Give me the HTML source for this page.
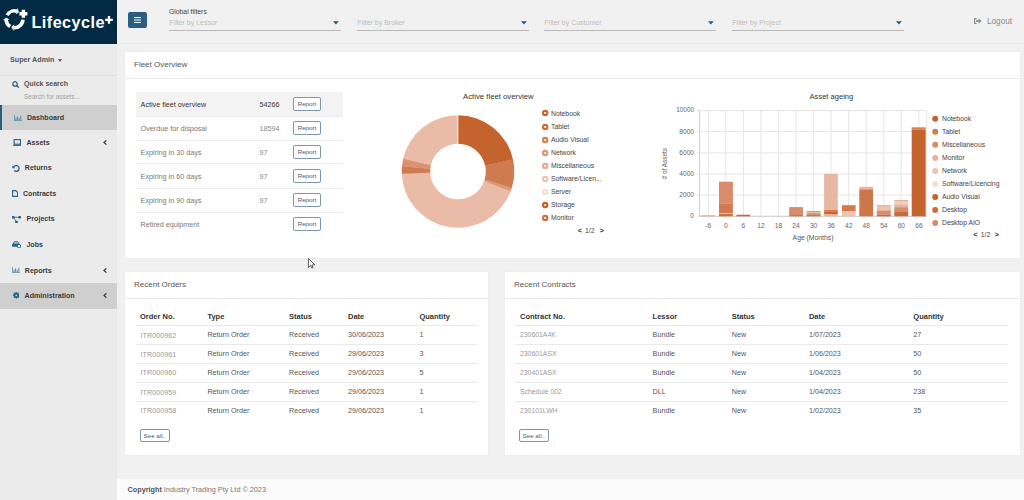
<!DOCTYPE html>
<html><head><meta charset="utf-8">
<style>
*{box-sizing:border-box;margin:0;padding:0}
html,body{width:1024px;height:500px;overflow:hidden;background:#f1f1f1;font-family:"Liberation Sans",sans-serif;color:#333}
.a{position:absolute;white-space:nowrap}
#side{position:absolute;left:0;top:0;width:117px;height:500px;background:#ebebeb}
#logo{position:absolute;left:0;top:0;width:117px;height:44px;background:#032a45}
.mi{position:absolute;left:0;width:117px;height:25px;font-size:7.1px;font-weight:bold;color:#333;line-height:25px}
.mi .tx{position:absolute;left:24px}
.mi svg{position:absolute;left:11px;top:8px}
.mi .chev{position:absolute;left:102px;top:0;font-size:8px;color:#333}
.card{position:absolute;background:#fff;box-shadow:0 0 0 0.5px #ececec}
.ch{position:absolute;left:0;right:0;top:0;height:26.5px;border-bottom:1px solid #e9e9e9}
.ch span{position:absolute;left:9px;top:8.4px;font-size:8px;line-height:10px;color:#555}
.btn{position:absolute;border:1px solid #7d97a8;border-radius:2px;background:#fff;font-size:6.2px;color:#3a5f78;text-align:center}
.filt{position:absolute;top:14px;height:17px;border-bottom:1px solid #bababa}
.filt span{position:absolute;left:0.3px;top:3.7px;font-size:7px;line-height:10px;color:#bdbdbd}
.filt i{position:absolute;right:1.8px;top:6.4px;width:0;height:0;border-left:2.9px solid transparent;border-right:2.9px solid transparent;border-top:3.2px solid #2b5f82}
.tr{position:absolute;font-size:7.2px;line-height:10px}
</style></head><body>
<div id="side">
  <div id="logo">
    <svg class="a" style="left:0;top:0" width="117" height="44" viewBox="0 0 117 44">
      <g fill="none" stroke="#fff" stroke-width="3.6"><path d="M7.15 15.23 A8.4 8.4 0 0 1 16.82 11.23"/><path d="M22.89 19.59 A8.4 8.4 0 0 1 13.62 27.65"/><path d="M10.17 26.50 A8.4 8.4 0 0 1 6.12 19.89"/><path d="M19.4 13.7 H27.4 M23.4 9.7 V17.7" stroke-width="3.4"/></g>
      <g fill="#fff"><path d="M15.82 14.37 L17.53 8.00 L18.95 12.18 Z"/><path d="M14.06 24.38 L13.48 30.96 L11.35 27.09 Z"/><path d="M9.42 19.74 L2.84 20.32 L6.28 17.55 Z"/></g>
      <text x="31.5" y="27.8" fill="#fff" font-family="Liberation Sans" font-weight="bold" font-size="16.2" letter-spacing="0.45">Lifecycle</text>
      <path d="M105.1 19.8 H112.8 M108.95 15.9 V23.7" stroke="#fff" stroke-width="2.3"/>
    </svg>
  </div>
  <div class="a" style="left:10px;top:54.7px;font-size:7.2px;line-height:10px;font-weight:bold;color:#555">Super Admin</div>
  <div class="a" style="left:57.5px;top:58.5px;width:0;height:0;border-left:2.5px solid transparent;border-right:2.5px solid transparent;border-top:3px solid #555"></div>
  <div class="a" style="left:0;top:75px;width:117px;height:1px;background:#dedede"></div>
  <svg class="a" style="left:12.2px;top:80.8px" width="7.5" height="7" viewBox="0 0 7.5 7"><circle cx="3" cy="2.9" r="2.2" fill="none" stroke="#2b6384" stroke-width="1.2"/><path d="M4.5 4.4 L6.8 6.6" stroke="#2b6384" stroke-width="1.4"/></svg>
  <div class="a" style="left:24px;top:79px;font-size:7px;line-height:10px;font-weight:bold;color:#555">Quick search</div>
  <div class="a" style="left:24px;top:91.5px;font-size:6.5px;line-height:10px;color:#a0a0a0">Search for assets...</div>
  <div class="a" style="left:0;top:105px;width:117px;height:25px;background:#cfcfcf;border-left:2px solid #2b5f82"></div>
  <div class="a" style="left:0;top:283px;width:117px;height:26px;background:#cfcfcf"></div>
  <svg class="a" style="left:14px;top:114.8px" width="8" height="6" viewBox="0 0 8 6"><path d="M0.4 0 V5.6 H8" fill="none" stroke="#5b8aa6" stroke-width="0.9"/><path d="M2 5 V2.6 M3.6 5 V1.4 M5.2 5 V3 M6.8 5 V0.8" stroke="#5b8aa6" stroke-width="1"/></svg><div class="a" style="left:27px;top:112.6px;font-size:7.1px;line-height:10px;font-weight:bold;color:#3a3a3a">Dashboard</div>
<svg class="a" style="left:12.8px;top:139.2px" width="8.6" height="6.8" viewBox="0 0 8.6 6.8"><rect x="1.1" y="0.6" width="6.4" height="4.6" fill="#dfe8ee" stroke="#2b6384" stroke-width="1.1"/><path d="M0 6.3 H8.6" stroke="#2b6384" stroke-width="1.2"/></svg><div class="a" style="left:26.4px;top:137.7px;font-size:7.1px;line-height:10px;font-weight:bold;color:#3a3a3a">Assets</div><svg class="a" style="left:102.8px;top:140.2px" width="4" height="5" viewBox="0 0 4 5"><path d="M3.4 0.4 L1 2.5 L3.4 4.6" fill="none" stroke="#333" stroke-width="1.2"/></svg>
<svg class="a" style="left:12px;top:165px" width="7.6" height="7.2" viewBox="0 0 7.6 7.2"><path d="M1.6 2.2 A2.9 2.9 0 1 1 2.2 5.6" fill="none" stroke="#2b6384" stroke-width="1.3"/><path d="M0.3 0.3 V3.2 H3.2 Z" fill="#2b6384"/></svg><div class="a" style="left:24.8px;top:163.4px;font-size:7.1px;line-height:10px;font-weight:bold;color:#3a3a3a">Returns</div>
<svg class="a" style="left:12px;top:189.8px" width="6.2" height="7" viewBox="0 0 6.2 7"><path d="M0.6 0.6 H3.8 L5.6 2.4 V6.4 H0.6 Z" fill="#e4ecf1" stroke="#2b6384" stroke-width="1.1"/></svg><div class="a" style="left:23px;top:188.5px;font-size:7.1px;line-height:10px;font-weight:bold;color:#3a3a3a">Contracts</div>
<svg class="a" style="left:12.4px;top:215.6px" width="9" height="7.4" viewBox="0 0 9 7.4"><path d="M1.4 1.3 H7.6 M1.4 1.3 L4.5 6 M7.6 1.3" stroke="#2b6384" stroke-width="0.8" fill="none"/><rect x="0" y="0" width="2.6" height="2.6" rx="0.7" fill="#2b6384"/><rect x="6.4" y="0" width="2.6" height="2.6" rx="0.7" fill="#2b6384"/><rect x="3.2" y="4.8" width="2.6" height="2.6" rx="0.7" fill="#2b6384"/></svg><div class="a" style="left:26.6px;top:214.2px;font-size:7.1px;line-height:10px;font-weight:bold;color:#3a3a3a">Projects</div>
<svg class="a" style="left:12.2px;top:241.2px" width="9.2" height="7.2" viewBox="0 0 9.2 7.2"><path d="M1.2 3 L2.2 0.8 H6 L7 3 Z" fill="none" stroke="#2b6384" stroke-width="1"/><rect x="0" y="3" width="7.4" height="2.8" rx="0.6" fill="#2b6384"/><circle cx="7" cy="5.2" r="1.8" fill="#ebebeb" stroke="#2b6384" stroke-width="1"/></svg><div class="a" style="left:26.4px;top:239.6px;font-size:7.1px;line-height:10px;font-weight:bold;color:#3a3a3a">Jobs</div>
<svg class="a" style="left:12.2px;top:267.4px" width="8" height="6" viewBox="0 0 8 6"><path d="M0.4 0 V5.6 H8" fill="none" stroke="#5b8aa6" stroke-width="0.9"/><path d="M2 5 V2.6 M3.6 5 V1.4 M5.2 5 V3 M6.8 5 V0.8" stroke="#5b8aa6" stroke-width="1"/></svg><div class="a" style="left:24.8px;top:265.9px;font-size:7.1px;line-height:10px;font-weight:bold;color:#3a3a3a">Reports</div><svg class="a" style="left:102.8px;top:267.9px" width="4" height="5" viewBox="0 0 4 5"><path d="M3.4 0.4 L1 2.5 L3.4 4.6" fill="none" stroke="#333" stroke-width="1.2"/></svg>
<svg class="a" style="left:12.8px;top:292px" width="6.6" height="6.6" viewBox="0 0 6.6 6.6"><circle cx="3.3" cy="3.3" r="2" fill="none" stroke="#2b6384" stroke-width="1.6"/><path d="M3.3 0 V6.6 M0 3.3 H6.6 M1 1 L5.6 5.6 M5.6 1 L1 5.6" stroke="#2b6384" stroke-width="1.2"/><circle cx="3.3" cy="3.3" r="0.9" fill="#cfcfcf"/></svg><div class="a" style="left:24.6px;top:291.1px;font-size:7.1px;line-height:10px;font-weight:bold;color:#3a3a3a">Administration</div><svg class="a" style="left:102.8px;top:292.9px" width="4" height="5" viewBox="0 0 4 5"><path d="M3.4 0.4 L1 2.5 L3.4 4.6" fill="none" stroke="#333" stroke-width="1.2"/></svg>
</div>
</div>
<!-- top bar -->
<div class="a" style="left:117px;top:0;width:907px;height:44px;background:#f1f1f1;border-bottom:1px solid #eaeaea"></div>
<div class="a" style="left:128px;top:12px;width:19px;height:16px;background:#2b5f82;border-radius:2px"><svg class="a" style="left:6px;top:5px" width="7" height="6" viewBox="0 0 7 6"><path d="M0 0.6 H7 M0 3 H7 M0 5.4 H7" stroke="#fff" stroke-width="1"/></svg></div>
<div class="a" style="left:169px;top:7.3px;font-size:6.8px;line-height:10px;color:#444">Global filters</div>
<div class="filt" style="left:169px;width:172px"><span>Filter by Lessor</span><svg style="position:absolute;right:1.8px;top:6.7px" width="6" height="4" viewBox="0 0 6 4"><path d="M0 0.2 H5.8 L2.9 3.4 Z" fill="#23587a"/></svg></div>
<div class="filt" style="left:357px;width:172px"><span>Filter by Broker</span><svg style="position:absolute;right:1.8px;top:6.7px" width="6" height="4" viewBox="0 0 6 4"><path d="M0 0.2 H5.8 L2.9 3.4 Z" fill="#23587a"/></svg></div>
<div class="filt" style="left:544px;width:172px"><span>Filter by Customer</span><svg style="position:absolute;right:1.8px;top:6.7px" width="6" height="4" viewBox="0 0 6 4"><path d="M0 0.2 H5.8 L2.9 3.4 Z" fill="#23587a"/></svg></div>
<div class="filt" style="left:732px;width:172px"><span>Filter by Project</span><svg style="position:absolute;right:1.8px;top:6.7px" width="6" height="4" viewBox="0 0 6 4"><path d="M0 0.2 H5.8 L2.9 3.4 Z" fill="#23587a"/></svg></div>
<svg class="a" style="left:974px;top:18.3px" width="8" height="6" viewBox="0 0 8 6"><path d="M2.6 0.6 H0.6 V5.4 H2.6" fill="none" stroke="#8a8a8a" stroke-width="1.1"/><path d="M2 3 H5.2" stroke="#8a8a8a" stroke-width="1.6"/><path d="M4.6 0.6 L7.6 3 L4.6 5.4 Z" fill="#8a8a8a"/></svg><div class="a" style="left:987px;top:16.8px;font-size:8.2px;line-height:10px;color:#8a8a8a">Logout</div>

<!-- fleet card -->
<div class="card" style="left:125px;top:52px;width:895px;height:206px">
  <div class="ch"><span>Fleet Overview</span></div>
</div>

<div class="a" style="left:136px;top:92px;width:207px;height:24px;background:#f3f3f3"></div>
<div class="a" style="left:136px;top:116px;width:207px;height:1px;background:#ededed"></div>
<div class="a" style="left:136px;top:140px;width:207px;height:1px;background:#ededed"></div>
<div class="a" style="left:136px;top:163px;width:207px;height:1px;background:#ededed"></div>
<div class="a" style="left:136px;top:188px;width:207px;height:1px;background:#ededed"></div>
<div class="a" style="left:136px;top:212px;width:207px;height:1px;background:#ededed"></div>
<div class="tr a" style="left:140.6px;top:99.9px;color:#333">Active fleet overview</div>
<div class="tr a" style="left:259.4px;top:99.9px;color:#333">54266</div>
<div class="btn" style="left:293px;top:97.2px;width:28px;height:14px;line-height:12px">Report</div>
<div class="tr a" style="left:140.6px;top:123.5px;color:#777">Overdue for disposal</div>
<div class="tr a" style="left:259.4px;top:123.5px;color:#888">18594</div>
<div class="btn" style="left:293px;top:120.8px;width:28px;height:14px;line-height:12px">Report</div>
<div class="tr a" style="left:140.6px;top:147.7px;color:#777">Expiring in 30 days</div>
<div class="tr a" style="left:259.4px;top:147.7px;color:#888">97</div>
<div class="btn" style="left:293px;top:145.0px;width:28px;height:14px;line-height:12px">Report</div>
<div class="tr a" style="left:140.6px;top:172.1px;color:#777">Expiring in 60 days</div>
<div class="tr a" style="left:259.4px;top:172.1px;color:#888">97</div>
<div class="btn" style="left:293px;top:169.4px;width:28px;height:14px;line-height:12px">Report</div>
<div class="tr a" style="left:140.6px;top:196.0px;color:#777">Expiring in 90 days</div>
<div class="tr a" style="left:259.4px;top:196.0px;color:#888">97</div>
<div class="btn" style="left:293px;top:193.3px;width:28px;height:14px;line-height:12px">Report</div>
<div class="tr a" style="left:140.6px;top:220.1px;color:#777">Retired equipment</div>
<div class="btn" style="left:293px;top:217.4px;width:28px;height:14px;line-height:12px">Report</div>
<svg class="a" style="left:0;top:0" width="1024" height="260"><path d="M458.00 115.20 A56.3 56.3 0 0 1 513.05 159.70 L485.18 165.67 A27.8 27.8 0 0 0 458.00 143.70 Z" fill="#c4632e"/><path d="M512.92 159.12 A56.3 56.3 0 0 1 511.72 188.34 L484.53 179.81 A27.8 27.8 0 0 0 485.12 165.39 Z" fill="#d07a4f"/><path d="M511.90 187.77 A56.3 56.3 0 0 1 510.53 191.77 L483.94 181.51 A27.8 27.8 0 0 0 484.61 179.54 Z" fill="#dc9a7a"/><path d="M510.73 191.22 A56.3 56.3 0 0 1 401.73 173.27 L430.21 172.37 A27.8 27.8 0 0 0 484.04 181.24 Z" fill="#eabba6"/><path d="M401.75 173.86 A56.3 56.3 0 0 1 401.98 165.91 L430.34 168.74 A27.8 27.8 0 0 0 430.22 172.66 Z" fill="#d27a50"/><path d="M401.92 166.50 A56.3 56.3 0 0 1 403.28 158.26 L430.98 164.96 A27.8 27.8 0 0 0 430.31 169.03 Z" fill="#db9272"/><path d="M403.14 158.84 A56.3 56.3 0 0 1 457.41 115.20 L457.71 143.70 A27.8 27.8 0 0 0 430.91 165.25 Z" fill="#eabba6"/><path d="M456.82 115.21 A56.3 56.3 0 0 1 458.00 115.20 L458.00 143.70 A27.8 27.8 0 0 0 457.42 143.71 Z" fill="#f6e0d6"/><path d="M458.00 114.70 L458.00 144.20" stroke="#fff" stroke-width="0.6"/></svg>
<div class="a" style="left:463px;top:92px;font-size:7.75px;line-height:10px;color:#333">Active fleet overview</div>
<svg class="a" style="left:540px;top:108.45px" width="10" height="10" viewBox="0 0 10 10"><circle cx="5.2" cy="5" r="2.15" fill="#fff" stroke="#c4632e" stroke-width="2.1"/></svg><div class="a" style="left:551px;top:108.5px;font-size:6.8px;line-height:10px;color:#444">Notebook</div>
<svg class="a" style="left:540px;top:121.55px" width="10" height="10" viewBox="0 0 10 10"><circle cx="5.2" cy="5" r="2.15" fill="#fff" stroke="#c96b3c" stroke-width="2.1"/></svg><div class="a" style="left:551px;top:121.6px;font-size:6.8px;line-height:10px;color:#444">Tablet</div>
<svg class="a" style="left:540px;top:134.55px" width="10" height="10" viewBox="0 0 10 10"><circle cx="5.2" cy="5" r="2.15" fill="#fff" stroke="#d07f56" stroke-width="2.1"/></svg><div class="a" style="left:551px;top:134.6px;font-size:6.8px;line-height:10px;color:#444">Audio Visual</div>
<svg class="a" style="left:540px;top:147.65px" width="10" height="10" viewBox="0 0 10 10"><circle cx="5.2" cy="5" r="2.15" fill="#fff" stroke="#d9957a" stroke-width="2.1"/></svg><div class="a" style="left:551px;top:147.7px;font-size:6.8px;line-height:10px;color:#444">Network</div>
<svg class="a" style="left:540px;top:160.75px" width="10" height="10" viewBox="0 0 10 10"><circle cx="5.2" cy="5" r="2.15" fill="#fff" stroke="#e2ab92" stroke-width="2.1"/></svg><div class="a" style="left:551px;top:160.8px;font-size:6.8px;line-height:10px;color:#444">Miscellaneous</div>
<svg class="a" style="left:540px;top:173.85px" width="10" height="10" viewBox="0 0 10 10"><circle cx="5.2" cy="5" r="2.15" fill="#fff" stroke="#ebc3b1" stroke-width="2.1"/></svg><div class="a" style="left:551px;top:173.8px;font-size:6.8px;line-height:10px;color:#444">Software/Licen...</div>
<svg class="a" style="left:540px;top:186.85px" width="10" height="10" viewBox="0 0 10 10"><circle cx="5.2" cy="5" r="2.15" fill="#fff" stroke="#f4ddd2" stroke-width="2.1"/></svg><div class="a" style="left:551px;top:186.9px;font-size:6.8px;line-height:10px;color:#444">Server</div>
<svg class="a" style="left:540px;top:199.95px" width="10" height="10" viewBox="0 0 10 10"><circle cx="5.2" cy="5" r="2.15" fill="#fff" stroke="#c3602a" stroke-width="2.1"/></svg><div class="a" style="left:551px;top:200.0px;font-size:6.8px;line-height:10px;color:#444">Storage</div>
<svg class="a" style="left:540px;top:213.05px" width="10" height="10" viewBox="0 0 10 10"><circle cx="5.2" cy="5" r="2.15" fill="#fff" stroke="#cc6d3f" stroke-width="2.1"/></svg><div class="a" style="left:551px;top:213.1px;font-size:6.8px;line-height:10px;color:#444">Monitor</div>
<div class="a" style="left:577.8px;top:225.6px;font-size:7.5px;line-height:10px;font-weight:bold;color:#333">&lt;</div><div class="a" style="left:585px;top:225.6px;font-size:6.8px;line-height:10px;color:#444">1/2</div><div class="a" style="left:599.4px;top:225.6px;font-size:7.5px;line-height:10px;font-weight:bold;color:#333">&gt;</div>
<svg class="a" style="left:640px;top:80px" width="384" height="180" viewBox="640 80 384 180"><g transform="translate(0 0.5)"><path d="M697 110 H926.8" stroke="#e6e6e6" stroke-width="1"/><path d="M697 131.2 H926.8" stroke="#e6e6e6" stroke-width="1"/><path d="M697 152.4 H926.8" stroke="#e6e6e6" stroke-width="1"/><path d="M697 173.5 H926.8" stroke="#e6e6e6" stroke-width="1"/><path d="M697 194.6 H926.8" stroke="#e6e6e6" stroke-width="1"/><path d="M697 215.8 H926.8" stroke="#e6e6e6" stroke-width="1"/><path d="M708.3 110 V218" stroke="#e6e6e6" stroke-width="1"/><path d="M725.8 110 V218" stroke="#e6e6e6" stroke-width="1"/><path d="M743.4 110 V218" stroke="#e6e6e6" stroke-width="1"/><path d="M760.9 110 V218" stroke="#e6e6e6" stroke-width="1"/><path d="M778.5 110 V218" stroke="#e6e6e6" stroke-width="1"/><path d="M796.0 110 V218" stroke="#e6e6e6" stroke-width="1"/><path d="M813.6 110 V218" stroke="#e6e6e6" stroke-width="1"/><path d="M831.1 110 V218" stroke="#e6e6e6" stroke-width="1"/><path d="M848.7 110 V218" stroke="#e6e6e6" stroke-width="1"/><path d="M866.2 110 V218" stroke="#e6e6e6" stroke-width="1"/><path d="M883.8 110 V218" stroke="#e6e6e6" stroke-width="1"/><path d="M901.3 110 V218" stroke="#e6e6e6" stroke-width="1"/><path d="M918.9 110 V218" stroke="#e6e6e6" stroke-width="1"/><path d="M926.8 110 V215.8" stroke="#e6e6e6" stroke-width="1"/><path d="M699.6 110 V216.3 M699.6 215.8 H926.8" stroke="#cfcfcf" stroke-width="1"/><rect x="701" y="214.8" width="14.2" height="1.0" fill="#e0a890"/><rect x="719" y="181.2" width="13.9" height="21.6" fill="#d98c69"/><rect x="719" y="202.8" width="13.9" height="10.0" fill="#d27a4f"/><rect x="719" y="212.8" width="13.9" height="0.7" fill="#eab79f"/><rect x="719" y="213.5" width="13.9" height="2.3" fill="#cf6d3d"/><rect x="736.4" y="214.2" width="13.8" height="1.6" fill="#c96b3c"/><rect x="789.2" y="206.6" width="13.8" height="8.0" fill="#d98c69"/><rect x="789.2" y="214.6" width="13.8" height="1.2" fill="#c96b3c"/><rect x="806.6" y="210.8" width="14.0" height="1.0" fill="#c96b3c"/><rect x="806.6" y="211.8" width="14.0" height="0.9" fill="#e5b09a"/><rect x="806.6" y="212.7" width="14.0" height="1.9" fill="#d98c69"/><rect x="806.6" y="214.6" width="14.0" height="1.2" fill="#c96b3c"/><rect x="824.1" y="173.3" width="13.7" height="36.2" fill="#e8b7a2"/><rect x="824.1" y="209.5" width="13.7" height="1.3" fill="#d27a4f"/><rect x="824.1" y="210.8" width="13.7" height="3.2" fill="#c8652f"/><rect x="824.1" y="214" width="13.7" height="1.8" fill="#e8b5a0"/><rect x="841.9" y="204.7" width="13.7" height="6.3" fill="#d27a4f"/><rect x="841.9" y="211" width="13.7" height="4.8" fill="#edc3b0"/><rect x="859.3" y="186.3" width="13.7" height="2.6" fill="#e8b5a0"/><rect x="859.3" y="188.9" width="13.7" height="26.9" fill="#cf7648"/><rect x="876.8" y="205" width="14.0" height="0.9" fill="#c96b3c"/><rect x="876.8" y="205.9" width="14.0" height="4.0" fill="#edc3b0"/><rect x="876.8" y="209.9" width="14.0" height="4.1" fill="#d98c69"/><rect x="876.8" y="214" width="14.0" height="1.8" fill="#c96b3c"/><rect x="894.3" y="200" width="13.9" height="0.9" fill="#c96b3c"/><rect x="894.3" y="200.9" width="13.9" height="2.9" fill="#f0cdbf"/><rect x="894.3" y="203.8" width="13.9" height="2.9" fill="#e8b5a0"/><rect x="894.3" y="206.7" width="13.9" height="4.1" fill="#d98c69"/><rect x="894.3" y="210.8" width="13.9" height="5.0" fill="#c96b3c"/><rect x="911.7" y="126.8" width="14.0" height="2.2" fill="#d4825a"/><rect x="911.7" y="129" width="14.0" height="86.8" fill="#c4632e"/></g><text x="694" y="112.3" text-anchor="end" font-family="Liberation Sans" font-size="6.4" fill="#666">10000</text><text x="694" y="133.5" text-anchor="end" font-family="Liberation Sans" font-size="6.6" fill="#666">8000</text><text x="694" y="154.7" text-anchor="end" font-family="Liberation Sans" font-size="6.6" fill="#666">6000</text><text x="694" y="175.8" text-anchor="end" font-family="Liberation Sans" font-size="6.6" fill="#666">4000</text><text x="694" y="196.9" text-anchor="end" font-family="Liberation Sans" font-size="6.6" fill="#666">2000</text><text x="694" y="218.1" text-anchor="end" font-family="Liberation Sans" font-size="6.6" fill="#666">0</text><text x="708.3" y="227.8" text-anchor="middle" font-family="Liberation Sans" font-size="6.6" fill="#666">-6</text><text x="725.8" y="227.8" text-anchor="middle" font-family="Liberation Sans" font-size="6.6" fill="#666">0</text><text x="743.4" y="227.8" text-anchor="middle" font-family="Liberation Sans" font-size="6.6" fill="#666">6</text><text x="760.9" y="227.8" text-anchor="middle" font-family="Liberation Sans" font-size="6.6" fill="#666">12</text><text x="778.5" y="227.8" text-anchor="middle" font-family="Liberation Sans" font-size="6.6" fill="#666">18</text><text x="796.0" y="227.8" text-anchor="middle" font-family="Liberation Sans" font-size="6.6" fill="#666">24</text><text x="813.6" y="227.8" text-anchor="middle" font-family="Liberation Sans" font-size="6.6" fill="#666">30</text><text x="831.1" y="227.8" text-anchor="middle" font-family="Liberation Sans" font-size="6.6" fill="#666">36</text><text x="848.7" y="227.8" text-anchor="middle" font-family="Liberation Sans" font-size="6.6" fill="#666">42</text><text x="866.2" y="227.8" text-anchor="middle" font-family="Liberation Sans" font-size="6.6" fill="#666">48</text><text x="883.8" y="227.8" text-anchor="middle" font-family="Liberation Sans" font-size="6.6" fill="#666">54</text><text x="901.3" y="227.8" text-anchor="middle" font-family="Liberation Sans" font-size="6.6" fill="#666">60</text><text x="918.9" y="227.8" text-anchor="middle" font-family="Liberation Sans" font-size="6.6" fill="#666">66</text><text x="813" y="239.6" text-anchor="middle" font-family="Liberation Sans" font-size="6.8" fill="#555">Age (Months)</text><text transform="translate(666.8 163.6) rotate(-90)" text-anchor="middle" font-family="Liberation Sans" font-size="6.4" fill="#555"># of Assets</text><text x="831.4" y="99" text-anchor="middle" font-family="Liberation Sans" font-size="7.55" fill="#333">Asset ageing</text><circle cx="935.2" cy="118.7" r="3" fill="#c4632e"/><text x="942" y="120.6" font-family="Liberation Sans" font-size="6.8" fill="#444">Notebook</text><circle cx="935.2" cy="131.7" r="3" fill="#d27a55"/><text x="942" y="133.7" font-family="Liberation Sans" font-size="6.8" fill="#444">Tablet</text><circle cx="935.2" cy="144.8" r="3" fill="#d98c69"/><text x="942" y="146.7" font-family="Liberation Sans" font-size="6.8" fill="#444">Miscellaneous</text><circle cx="935.2" cy="157.9" r="3" fill="#e5b09a"/><text x="942" y="159.8" font-family="Liberation Sans" font-size="6.8" fill="#444">Monitor</text><circle cx="935.2" cy="170.9" r="3" fill="#ecc4b6"/><text x="942" y="172.8" font-family="Liberation Sans" font-size="6.8" fill="#444">Network</text><circle cx="935.2" cy="183.9" r="3" fill="#f3dcd5"/><text x="942" y="185.8" font-family="Liberation Sans" font-size="6.8" fill="#444">Software/Licencing</text><circle cx="935.2" cy="197.0" r="3" fill="#c4632e"/><text x="942" y="198.9" font-family="Liberation Sans" font-size="6.8" fill="#444">Audio Visual</text><circle cx="935.2" cy="210.1" r="3" fill="#cc6f40"/><text x="942" y="212.0" font-family="Liberation Sans" font-size="6.8" fill="#444">Desktop</text><circle cx="935.2" cy="223.1" r="3" fill="#d98c69"/><text x="942" y="225.0" font-family="Liberation Sans" font-size="6.8" fill="#444">Desktop AIO</text><text x="973.3" y="237" font-family="Liberation Sans" font-size="7.5" font-weight="bold" fill="#333">&lt;</text><text x="980.8" y="237" font-family="Liberation Sans" font-size="6.8" fill="#444">1/2</text><text x="994.6" y="237" font-family="Liberation Sans" font-size="7.5" font-weight="bold" fill="#333">&gt;</text></svg>
<!-- orders card -->
<div class="card" style="left:125px;top:272px;width:363px;height:183px">
  <div class="ch"><span>Recent Orders</span></div>
</div>
<!-- contracts card -->
<div class="card" style="left:505px;top:272px;width:515px;height:183px">
  <div class="ch"><span>Recent Contracts</span></div>
</div>

<div class="a" style="left:140px;top:311.5px;font-size:7.5px;line-height:10px;font-weight:bold;color:#333">Order No.</div><div class="a" style="left:207.4px;top:311.5px;font-size:7.5px;line-height:10px;font-weight:bold;color:#333">Type</div><div class="a" style="left:289px;top:311.5px;font-size:7.5px;line-height:10px;font-weight:bold;color:#333">Status</div><div class="a" style="left:348px;top:311.5px;font-size:7.5px;line-height:10px;font-weight:bold;color:#333">Date</div><div class="a" style="left:419.4px;top:311.5px;font-size:7.5px;line-height:10px;font-weight:bold;color:#333">Quantity</div><div class="a" style="left:136px;top:325px;width:341px;height:1px;background:#e9e9e9"></div><div class="a" style="left:136px;top:344px;width:341px;height:1px;background:#e9e9e9"></div><div class="a" style="left:136px;top:363px;width:341px;height:1px;background:#e9e9e9"></div><div class="a" style="left:136px;top:382px;width:341px;height:1px;background:#e9e9e9"></div><div class="a" style="left:136px;top:401px;width:341px;height:1px;background:#e9e9e9"></div><div class="tr a" style="left:140.6px;top:330.5px;color:#999">ITR000962</div><div class="tr a" style="left:207.4px;top:329.8px;color:#555">Return Order</div><div class="tr a" style="left:289px;top:329.8px;color:#555">Received</div><div class="tr a" style="left:348px;top:329.8px;color:#555">30/06/2023</div><div class="tr a" style="left:419.4px;top:329.8px;color:#555">1</div>
<div class="tr a" style="left:140.6px;top:350.0px;color:#999">ITR000961</div><div class="tr a" style="left:207.4px;top:349.3px;color:#555">Return Order</div><div class="tr a" style="left:289px;top:349.3px;color:#555">Received</div><div class="tr a" style="left:348px;top:349.3px;color:#555">29/06/2023</div><div class="tr a" style="left:419.4px;top:349.3px;color:#555">3</div>
<div class="tr a" style="left:140.6px;top:368.3px;color:#999">ITR000960</div><div class="tr a" style="left:207.4px;top:367.6px;color:#555">Return Order</div><div class="tr a" style="left:289px;top:367.6px;color:#555">Received</div><div class="tr a" style="left:348px;top:367.6px;color:#555">29/06/2023</div><div class="tr a" style="left:419.4px;top:367.6px;color:#555">5</div>
<div class="tr a" style="left:140.6px;top:387.5px;color:#999">ITR000959</div><div class="tr a" style="left:207.4px;top:386.8px;color:#555">Return Order</div><div class="tr a" style="left:289px;top:386.8px;color:#555">Received</div><div class="tr a" style="left:348px;top:386.8px;color:#555">29/06/2023</div><div class="tr a" style="left:419.4px;top:386.8px;color:#555">1</div>
<div class="tr a" style="left:140.6px;top:406.4px;color:#999">ITR000958</div><div class="tr a" style="left:207.4px;top:405.7px;color:#555">Return Order</div><div class="tr a" style="left:289px;top:405.7px;color:#555">Received</div><div class="tr a" style="left:348px;top:405.7px;color:#555">29/06/2023</div><div class="tr a" style="left:419.4px;top:405.7px;color:#555">1</div>
<div class="btn" style="left:140px;top:428.6px;width:29.6px;height:13.6px;line-height:11.6px">See all..</div>
<div class="a" style="left:520px;top:311.5px;font-size:7.5px;line-height:10px;font-weight:bold;color:#333">Contract No.</div><div class="a" style="left:652.6px;top:311.5px;font-size:7.5px;line-height:10px;font-weight:bold;color:#333">Lessor</div><div class="a" style="left:731.8px;top:311.5px;font-size:7.5px;line-height:10px;font-weight:bold;color:#333">Status</div><div class="a" style="left:808.9px;top:311.5px;font-size:7.5px;line-height:10px;font-weight:bold;color:#333">Date</div><div class="a" style="left:913.3px;top:311.5px;font-size:7.5px;line-height:10px;font-weight:bold;color:#333">Quantity</div><div class="a" style="left:515px;top:325px;width:493px;height:1px;background:#e9e9e9"></div><div class="a" style="left:515px;top:344px;width:493px;height:1px;background:#e9e9e9"></div><div class="a" style="left:515px;top:363px;width:493px;height:1px;background:#e9e9e9"></div><div class="a" style="left:515px;top:382px;width:493px;height:1px;background:#e9e9e9"></div><div class="a" style="left:515px;top:401px;width:493px;height:1px;background:#e9e9e9"></div><div class="tr a" style="font-size:6.85px;left:520px;top:329.8px;color:#999">230601A4K</div><div class="tr a" style="left:652.6px;top:329.8px;color:#555">Bundle</div><div class="tr a" style="left:731.8px;top:329.8px;color:#555">New</div><div class="tr a" style="left:808.9px;top:329.8px;color:#555">1/07/2023</div><div class="tr a" style="left:913.3px;top:329.8px;color:#555">27</div>
<div class="tr a" style="font-size:6.85px;left:520px;top:349.3px;color:#999">230601ASX</div><div class="tr a" style="left:652.6px;top:349.3px;color:#555">Bundle</div><div class="tr a" style="left:731.8px;top:349.3px;color:#555">New</div><div class="tr a" style="left:808.9px;top:349.3px;color:#555">1/06/2023</div><div class="tr a" style="left:913.3px;top:349.3px;color:#555">50</div>
<div class="tr a" style="font-size:6.85px;left:520px;top:367.6px;color:#999">230401ASX</div><div class="tr a" style="left:652.6px;top:367.6px;color:#555">Bundle</div><div class="tr a" style="left:731.8px;top:367.6px;color:#555">New</div><div class="tr a" style="left:808.9px;top:367.6px;color:#555">1/04/2023</div><div class="tr a" style="left:913.3px;top:367.6px;color:#555">50</div>
<div class="tr a" style="font-size:6.85px;left:520px;top:386.8px;color:#999">Schedule 002</div><div class="tr a" style="left:652.6px;top:386.8px;color:#555">DLL</div><div class="tr a" style="left:731.8px;top:386.8px;color:#555">New</div><div class="tr a" style="left:808.9px;top:386.8px;color:#555">1/04/2023</div><div class="tr a" style="left:913.3px;top:386.8px;color:#555">238</div>
<div class="tr a" style="font-size:6.85px;left:520px;top:405.7px;color:#999">230101LWH</div><div class="tr a" style="left:652.6px;top:405.7px;color:#555">Bundle</div><div class="tr a" style="left:731.8px;top:405.7px;color:#555">New</div><div class="tr a" style="left:808.9px;top:405.7px;color:#555">1/02/2023</div><div class="tr a" style="left:913.3px;top:405.7px;color:#555">35</div>
<div class="btn" style="left:519px;top:428.6px;width:29.6px;height:13.6px;line-height:11.6px">See all..</div>
<!-- footer -->
<div class="a" style="left:117px;top:478px;width:907px;height:22px;background:#fbfbfb;border-top:1px solid #f0f0f0"></div>
<div class="a" style="left:127.6px;top:484.6px;font-size:7.25px;line-height:10px;color:#777"><b style="color:#555">Copyright</b> Industry Trading Pty Ltd © 2023</div>
<svg class="a" style="left:306px;top:256px" width="12" height="15" viewBox="306 256 12 15"><path d="M308.4 258.5 V267.4 L310.5 265.4 L311.9 268.1 L313.1 267.6 L311.8 265 L314.9 264.8 Z" fill="#fff" stroke="#333" stroke-width="0.8" stroke-linejoin="miter"/></svg>
</body></html>
